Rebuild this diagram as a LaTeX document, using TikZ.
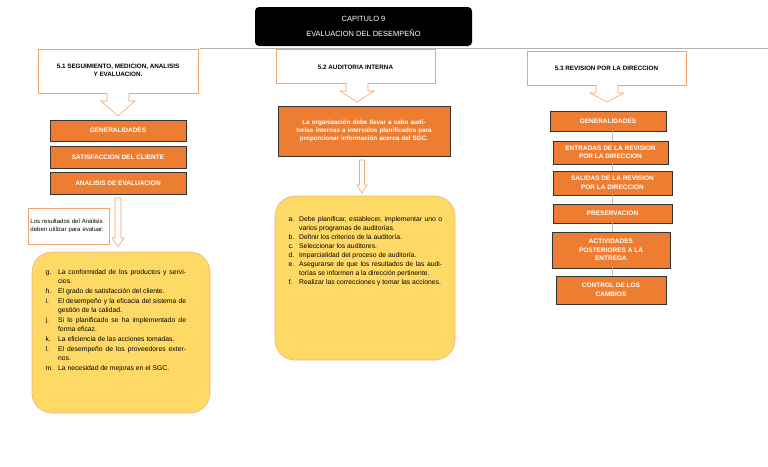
\documentclass[tikz,border=0pt]{standalone}
\usepackage{fontspec}
\setmainfont{Liberation Sans}
\definecolor{ora}{HTML}{ED7D31}
\definecolor{yel}{HTML}{FFD966}
\begin{document}
\begin{tikzpicture}[x=1pt,y=-1pt,
  hdr/.style={draw=ora!70,fill=white,line width=0.6pt},
  obox/.style={draw=black!80,fill=ora,line width=0.7pt,text=white,font=\fontsize{6.5}{8.5}\selectfont\bfseries,align=center},
  ybox/.style={draw=ora!60,fill=yel,rounded corners=20pt,line width=0.6pt},
  barrow/.style={draw=ora!70,fill=white,line width=0.6pt},
  txt/.style={font=\fontsize{6.8}{9.6}\selectfont,align=left}]
\useasboundingbox (0,0) rectangle (768,466);
% header
\draw[gray!60,line width=0.8pt] (200,48) -- (768,48);
\node[fill=black,rounded corners=4pt,minimum width=217pt,minimum height=39pt] (cap) at (363.5,26.5) {};
\node[text=white,font=\fontsize{7.5}{9}\selectfont,align=center] (capt) at (cap) {CAPITULO 9\\[6pt]EVALUACION DEL DESEMPEÑO};
% section headers
\draw[hdr] (38,49) rectangle (198,93);
\node[font=\fontsize{6.3}{8}\selectfont\bfseries,align=center] (s1) at (118,70) {5.1 SEGUIMIENTO, MEDICION, ANALISIS\\Y EVALUACION.};
\draw[hdr] (276,49) rectangle (435,83);
\node[font=\fontsize{6.3}{8}\selectfont\bfseries] (s2) at (355.5,67) {5.2 AUDITORIA INTERNA};
\draw[hdr] (527,51) rectangle (686,85);
\node[font=\fontsize{6.3}{8}\selectfont\bfseries] (s3) at (606.5,68) {5.3 REVISION POR LA DIRECCION};
% block arrows under headers
\foreach \cx/\ty/\by in {118/93/116, 357/83/102, 607/85/102}{
  \draw[barrow] (\cx-11,\ty) -- (\cx-11,\ty+8) -- (\cx-17,\ty+8) -- (\cx,\by) -- (\cx+17,\ty+8) -- (\cx+11,\ty+8) -- (\cx+11,\ty);
}
% left column
\node[obox,minimum width=136pt,minimum height=21pt] (g1) at (118,130.5) {GENERALIDADES};
\node[obox,minimum width=136pt,minimum height=22pt] (g2) at (118,157) {SATISFACCION DEL CLIENTE};
\node[obox,minimum width=136pt,minimum height=22pt] (g3) at (118,183) {ANALISIS DE EVALUACION};
\draw[barrow] (115,198) -- (115,238) -- (112,238) -- (118,247) -- (124,238) -- (121,238) -- (121,198) -- cycle;
\node[draw=ora!70,fill=white,minimum width=81pt,minimum height=36pt,text width=76pt,inner sep=2pt,align=left,font=\fontsize{6}{8}\selectfont] (note) at (68.5,226) {Los resultados del Análisis deben utilizar para evaluar:\\[6pt]};
\node[ybox,minimum width=178pt,minimum height=161pt] (y1) at (121,332.5) {};
\node[txt,anchor=north west] (y1t) at (42,264) {%
\begin{tabular}{@{}l@{\hspace{5pt}}p{128pt}@{}}
g.&La conformidad de los productos y servicios.\\
h.&El grado de satisfacción del cliente.\\
i.&El desempeño y la eficacia del sistema de gestión de la calidad.\\
j.&Si lo planificado se ha implementado de forma eficaz.\\
k.&La eficiencia de las acciones tomadas.\\
l.&El desempeño de los proveedores externos.\\
m.&La necesidad de mejoras en el SGC.
\end{tabular}};
% middle column
\node[obox,minimum width=172pt,minimum height=50pt,text width=164pt,font=\fontsize{6.3}{8}\selectfont\bfseries] (m1) at (364,131) {La organización debe llevar a cabo auditorías internas a intervalos planificados para proporcionar información acerca del SGC.};
\draw[barrow] (359.5,160) -- (359.5,185) -- (357,185) -- (362,193) -- (367,185) -- (364.5,185) -- (364.5,160) -- cycle;
\node[ybox,minimum width=180pt,minimum height=164pt] (y2) at (365,278) {};
\node[txt,anchor=north west,font=\fontsize{6.8}{8.9}\selectfont] (y2t) at (285,212) {%
\begin{tabular}{@{}l@{\hspace{5pt}}p{143pt}@{}}
a.&Debe planificar, establecer, implementar uno o varios programas de auditorías.\\
b.&Definir los criterios de la auditoría.\\
c.&Seleccionar los auditores.\\
d.&Imparcialidad del proceso de auditoría.\\
e.&Asegurarse de que los resultados de las auditorías se informen a la dirección pertinente.\\
f.&Realizar las correcciones y tomar las acciones.
\end{tabular}};
% right column
\node[obox,minimum width=116pt,minimum height=20pt] (r1) at (608,121) {GENERALIDADES};
\node[obox,minimum width=115pt,minimum height=23pt] (r2) at (610.5,152.5) {ENTRADAS DE LA REVISION\\POR LA DIRECCION};
\node[obox,minimum width=119pt,minimum height=24pt] (r3) at (612.5,183) {SALIDAS DE LA REVISION\\POR LA DIRECCION};
\node[obox,minimum width=119pt,minimum height=19pt] (r4) at (612.5,213.5) {PRESERVACION};
\node[obox,minimum width=118pt,minimum height=36pt] (r5) at (611,250) {ACTIVIDADES\\POSTERIORES A LA\\ENTREGA};
\node[obox,minimum width=110pt,minimum height=28pt] (r6) at (611,290) {CONTROL DE LOS\\CAMBIOS};
\foreach \a/\b in {r1/r2,r2/r3,r3/r4,r4/r5,r5/r6}{
  \draw[gray!50,line width=0.8pt] (\a.south -| 612,0) -- (\b.north -| 612,0);
}
\end{tikzpicture}
\end{document}
